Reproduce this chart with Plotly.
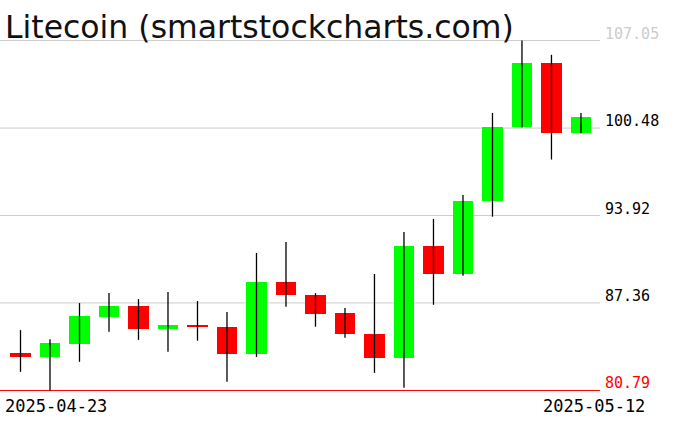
import plotly.graph_objects as go

dates = ["2025-04-23", "2025-04-24", "2025-04-25", "2025-04-26", "2025-04-27",
         "2025-04-28", "2025-04-29", "2025-04-30", "2025-05-01", "2025-05-02",
         "2025-05-03", "2025-05-04", "2025-05-05", "2025-05-06", "2025-05-07",
         "2025-05-08", "2025-05-09", "2025-05-10", "2025-05-11", "2025-05-12"]
open_ = [83.59, 83.31, 84.29, 86.30, 87.12, 85.42, 85.70, 85.58, 83.54, 88.93,
         87.97, 86.58, 85.04, 83.24, 91.63, 89.55, 95.01, 100.55, 105.33, 100.12]
high = [85.32, 84.64, 87.35, 88.10, 87.65, 88.18, 87.50, 86.67, 91.11, 91.93,
        88.10, 86.97, 89.53, 92.68, 93.66, 95.46, 101.62, 107.05, 105.98, 101.62]
low = [82.19, 80.79, 82.94, 85.19, 84.59, 83.69, 84.52, 81.44, 83.31, 87.07,
       85.57, 84.74, 82.11, 80.99, 87.22, 89.40, 93.83, 100.52, 98.12, 100.07]
close = [83.31, 84.34, 86.37, 87.12, 85.42, 85.70, 85.55, 83.54, 88.93, 87.97,
         86.55, 85.04, 83.24, 91.63, 89.55, 95.01, 100.57, 105.33, 100.12, 101.32]

level_values = [107.05, 100.48, 93.92, 87.36, 80.79]
level_labels = ["107.05", "100.48", "93.92", "87.36", "80.79"]
level_colors = ["#cccccc", "#000000", "#000000", "#000000", "#ff0000"]
line_colors = ["#cccccc", "#cccccc", "#cccccc", "#cccccc", "#ff0000"]
title_text = "Litecoin (smartstockcharts.com)"

idx = list(range(len(dates)))

# wicks
wx, wy = [], []
for i in idx:
    wx += [i, i, None]
    wy += [low[i], high[i], None]

base = [min(o, c) for o, c in zip(open_, close)]
height = [max(abs(c - o), 0.12) for o, c in zip(open_, close)]
colors = ["#00ff00" if c >= o else "#ff0000" for o, c in zip(open_, close)]

fig = go.Figure()
fig.add_trace(go.Scatter(x=wx, y=wy, mode="lines",
                         line=dict(color="#000000", width=1.3),
                         hoverinfo="skip", showlegend=False))
fig.add_trace(go.Bar(x=idx, y=height, base=base, width=0.71,
                     marker=dict(color=colors, line=dict(width=0)),
                     customdata=dates, showlegend=False))

for v, lc in zip(level_values, line_colors):
    fig.add_shape(type="line", xref="paper", yref="y", x0=0, x1=1, y0=v, y1=v,
                  line=dict(color=lc, width=1), layer="below")

for v, t, c in zip(level_values, level_labels, level_colors):
    fig.add_annotation(xref="paper", yref="y", x=1, y=v, xanchor="left",
                       yanchor="bottom", xshift=3, yshift=-4, text=t,
                       showarrow=False,
                       font=dict(family="DejaVu Sans Mono", size=15, color=c))

fig.add_annotation(xref="paper", yref="paper", x=3 / 600, y=0, yanchor="top",
                   xanchor="left", yshift=-1, text=dates[0], showarrow=False,
                   font=dict(family="DejaVu Sans Mono", size=17, color="#000000"))
fig.add_annotation(xref="paper", yref="paper", x=647 / 600, y=0, yanchor="top",
                   xanchor="right", yshift=-1, text=dates[-1], showarrow=False,
                   font=dict(family="DejaVu Sans Mono", size=17, color="#000000"))

fig.update_layout(
    width=676, height=431,
    margin=dict(l=0, r=76, t=38, b=38),
    paper_bgcolor="white", plot_bgcolor="white",
    bargap=0,
    title=dict(text=title_text, xref="container", yref="container",
               x=5 / 676, xanchor="left", y=1 - 27 / 431, yanchor="middle",
               font=dict(family="DejaVu Sans", size=31.5, color="#111111")),
    xaxis=dict(range=[-0.695, 19.645], showgrid=False, zeroline=False,
               showticklabels=False, showline=False, fixedrange=True),
    yaxis=dict(range=[80.60, 107.24], showgrid=False, zeroline=False,
               showticklabels=False, showline=False, fixedrange=True),
)

fig.write_html("out.html", config={"displayModeBar": False},
               post_script="document.body.style.margin='0';document.body.style.overflow='hidden';")
